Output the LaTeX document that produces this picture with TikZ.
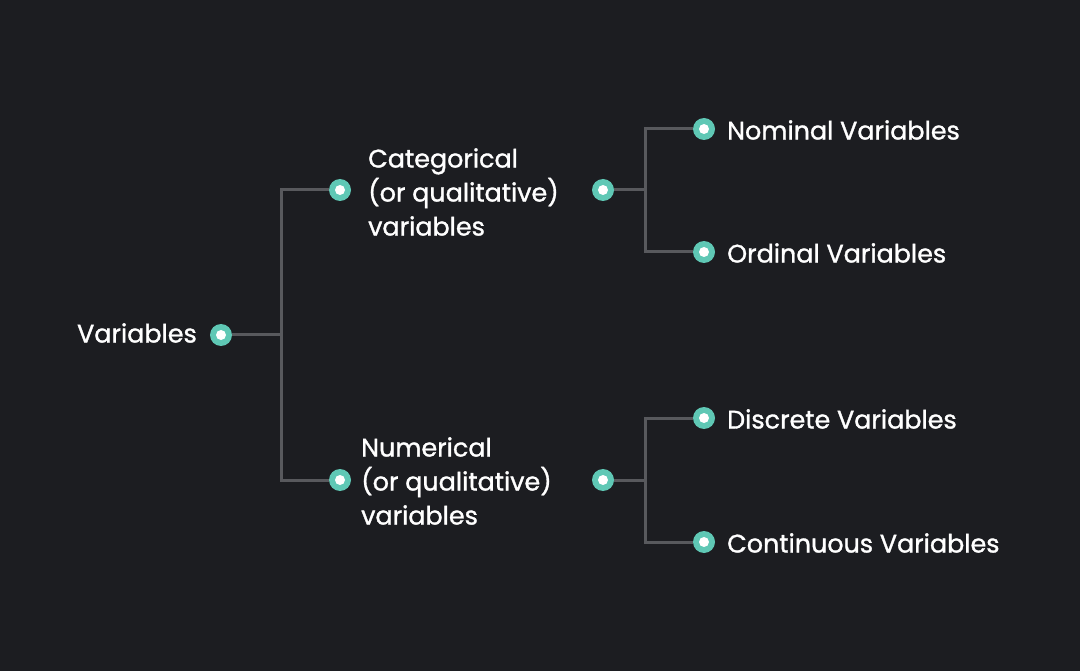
\documentclass[tikz,border=0pt]{standalone}
\usepackage{fontspec}
\setmainfont{Poppins}
\newfontfamily\lblfont{Poppins}[FakeBold=1.2]
\definecolor{bg}{HTML}{1C1D21}
\definecolor{teal}{HTML}{5FC8B5}
\definecolor{linegray}{HTML}{58595D}
\begin{document}
\begin{tikzpicture}[x=1pt,y=-1pt,
  dot/.style={circle,fill=teal,draw=none,minimum size=22pt,inner sep=0pt,
    path picture={\fill[white] (path picture bounding box.center) circle (5pt);}},
  conn/.style={draw=linegray,line width=3pt},
  lbl/.style={text=white,font=\lblfont\fontsize{25.4}{34}\selectfont,inner sep=0pt,align=left}]
\fill[bg] (0,0) rectangle (1080,671);
\useasboundingbox (0,0) rectangle (1080,671);
% dots
\node[dot] (v) at (221,335) {};
\node[dot] (c) at (340,190) {};
\node[dot] (n) at (340,480) {};
\node[dot] (c2) at (603,190) {};
\node[dot] (n2) at (603,480) {};
\node[dot] (nom) at (704,129) {};
\node[dot] (ord) at (704,252) {};
\node[dot] (dis) at (704,418) {};
\node[dot] (con) at (704,542) {};
\coordinate (j1) at (281,335);
\coordinate (j2) at (645,190);
\coordinate (j3) at (645,480);
% connectors
\draw[conn] (v.east) -- (j1);
\draw[conn] (c.west) -| (j1) |- (n.west);
\draw[conn] (c2.east) -- (j2);
\draw[conn] (nom.west) -| (j2) |- (ord.west);
\draw[conn] (n2.east) -- (j3);
\draw[conn] (dis.west) -| (j3) |- (con.west);
% labels
\node[lbl,anchor=east] (tv) at (197,333) {Variables};
\node[lbl,anchor=west] (tc) at (368,192) {Categorical\\(or qualitative)\\variables};
\node[lbl,anchor=west] (tn) at (361,481) {Numerical\\(or qualitative)\\variables};
\node[lbl,anchor=west] (tnom) at (727,130) {Nominal Variables};
\node[lbl,anchor=west] (tord) at (727,253) {Ordinal Variables};
\node[lbl,anchor=west] (tdis) at (727,419) {Discrete Variables};
\node[lbl,anchor=west] (tcon) at (727,543) {Continuous Variables};
\end{tikzpicture}
\end{document}
